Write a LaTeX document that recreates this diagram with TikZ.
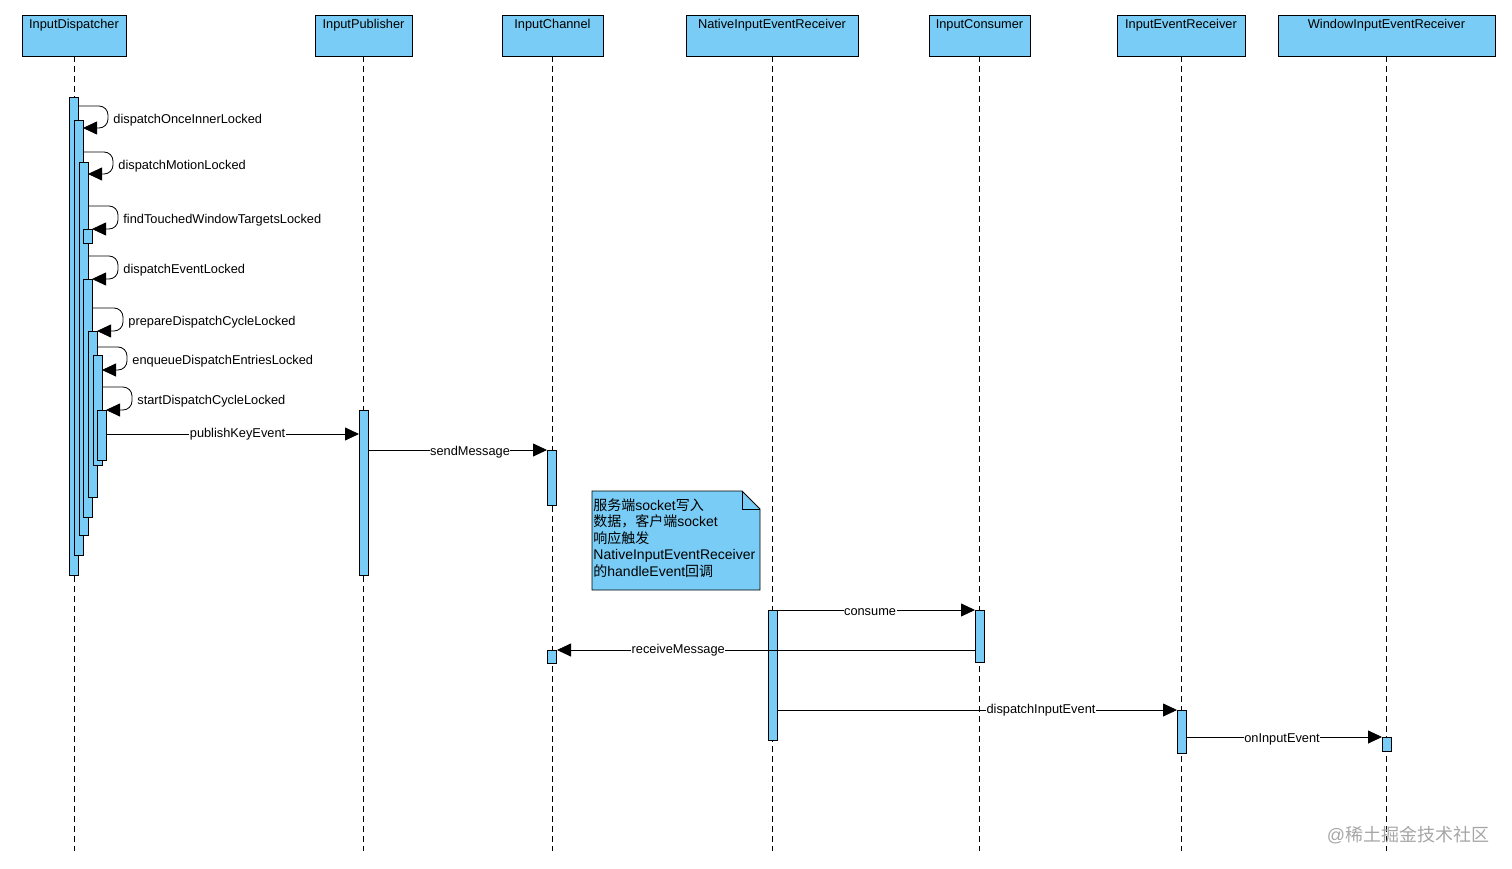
\documentclass[tikz,border=0pt]{standalone}
\usepackage{fontspec}
\setmainfont{Liberation Sans}
\newfontfamily\cjk{Noto Sans CJK SC}
\usetikzlibrary{arrows.meta}
\definecolor{bl}{RGB}{120,204,245}
\begin{document}
\begin{tikzpicture}[x=1pt,y=-1pt,font=\fontsize{12.8}{15}\selectfont,line width=0.8pt,
 life/.style={dashed,dash pattern=on 6pt off 4pt},
 bar/.style={draw,fill=bl,inner sep=0pt,minimum width=9pt},
 msg/.style={-{Triangle[length=14pt,width=13pt]}},
 lbl/.style={fill=white,inner sep=0.5pt},
 slbl/.style={anchor=west,inner sep=0pt},
 htxt/.style={anchor=north,inner sep=0pt}]
\useasboundingbox (0,0) rectangle (1512,869);
% heads
\node[draw,fill=bl,minimum width=104pt,minimum height=41pt] (h1) at (74,35.5) {};
\node[htxt] at (74,19) {InputDispatcher};
\node[draw,fill=bl,minimum width=97pt,minimum height=41pt] (h2) at (363.5,35.5) {};
\node[htxt] at (363.5,19) {InputPublisher};
\node[draw,fill=bl,minimum width=101pt,minimum height=41pt] (h3) at (552.5,35.5) {};
\node[htxt] at (552.5,19) {InputChannel};
\node[draw,fill=bl,minimum width=172pt,minimum height=41pt] (h4) at (772,35.5) {};
\node[htxt] at (772,19) {NativeInputEventReceiver};
\node[draw,fill=bl,minimum width=101pt,minimum height=41pt] (h5) at (979.5,35.5) {};
\node[htxt] at (979.5,19) {InputConsumer};
\node[draw,fill=bl,minimum width=128pt,minimum height=41pt] (h6) at (1181,35.5) {};
\node[htxt] at (1181,19) {InputEventReceiver};
\node[draw,fill=bl,minimum width=217pt,minimum height=41pt] (h7) at (1386.5,35.5) {};
\node[htxt] at (1386.5,19) {WindowInputEventReceiver};
% lifelines
\foreach \i/\x in {1/74,2/363,3/552,4/772,5/979,6/1181,7/1386}{
  \coordinate (e\i) at (\x,851);
  \draw[life] (\x,56) -- (e\i);
}
% bars on dispatcher
\node[bar,minimum height=478pt] (a1) at (73.5,336) {};
\node[bar,minimum height=435pt] (a2) at (78.5,337.5) {};
\node[bar,minimum height=373pt] (a3) at (83.5,348.5) {};
\node[bar,minimum height=14pt] (a3b) at (87.5,236) {};
\node[bar,minimum height=238pt] (a4) at (87.5,398) {};
\node[bar,minimum height=166pt] (a5) at (92.5,414) {};
\node[bar,minimum height=110pt] (a6) at (97.5,410) {};
\node[bar,minimum height=50pt] (a7) at (101.5,435) {};
% other bars
\node[bar,minimum height=165pt] (p1) at (363.5,492.5) {};
\node[bar,minimum height=55pt] (c1) at (552,477.5) {};
\node[bar,minimum height=13pt] (c2) at (552,656.5) {};
\node[bar,minimum height=130pt] (n1) at (772.5,675) {};
\node[bar,minimum height=52pt] (k1) at (979.5,636) {};
\node[bar,minimum height=43pt] (r1) at (1181.5,731.5) {};
\node[bar,minimum height=14pt] (w1) at (1386.5,744) {};
% self messages
\foreach \xa/\ya/\xb/\yb/\ext/\t in {
 78/106/83/128/108/dispatchOnceInnerLocked,
 83/152/88/174/113/dispatchMotionLocked,
 88/206/92/229/118/findTouchedWindowTargetsLocked,
 88/256/92/279/118/dispatchEventLocked,
 92/308/97/331/123/prepareDispatchCycleLocked,
 97/347/102/370/127/enqueueDispatchEntriesLocked,
 102/387/106/410/132/startDispatchCycleLocked}{
 \draw[msg,rounded corners=9pt] (\xa,\ya) -- (\ext,\ya) -- (\ext,\yb) -- (\xb,\yb);
 \node[slbl] at (\ext+5,{(\ya+\yb)/2+3}) {\t};
}
% messages
\coordinate (m1s) at (106,434); \coordinate (m1e) at (359,434);
\draw[msg] (m1s) -- node[lbl,pos=0.52]{publishKeyEvent} (m1e);
\coordinate (m2s) at (368,450); \coordinate (m2e) at (547,450);
\draw[msg] (m2s) -- node[lbl,pos=0.57,yshift=-2pt]{sendMessage} (m2e);
\coordinate (m3s) at (777,610); \coordinate (m3e) at (975,610);
\draw[msg] (m3s) -- node[lbl,pos=0.47,yshift=-2pt]{consume} (m3e);
\coordinate (m4s) at (975,650); \coordinate (m4e) at (557,650);
\draw[msg] (m4s) -- node[lbl,pos=0.71]{receiveMessage} (m4e);
\coordinate (m5s) at (777,710); \coordinate (m5e) at (1177,710);
\draw[msg] (m5s) -- node[lbl,pos=0.66]{dispatchInputEvent} (m5e);
\coordinate (m6s) at (1186,737); \coordinate (m6e) at (1382,737);
\draw[msg] (m6s) -- node[lbl,pos=0.49,yshift=-2pt]{onInputEvent} (m6e);
% note
\draw[fill=bl] (592,491) -- (742,491) -- (760,509) -- (760,590) -- (592,590) -- cycle;
\draw (742,491) -- (742,509) -- (760,509);
\node[anchor=north west,align=left,inner sep=0pt,font=\fontsize{14}{16.5}\selectfont] (note) at (593,498)
 {{\cjk 服务端}socket{\cjk 写入}\\{\cjk 数据，客户端}socket\\{\cjk 响应触发}\\NativeInputEventReceiver\\{\cjk 的}handleEvent{\cjk 回调}};
\node[text=gray!70,font=\fontsize{18}{20}\selectfont] (wm) at (1408,835) {@{\cjk 稀土掘金技术社区}};
\end{tikzpicture}
\end{document}
